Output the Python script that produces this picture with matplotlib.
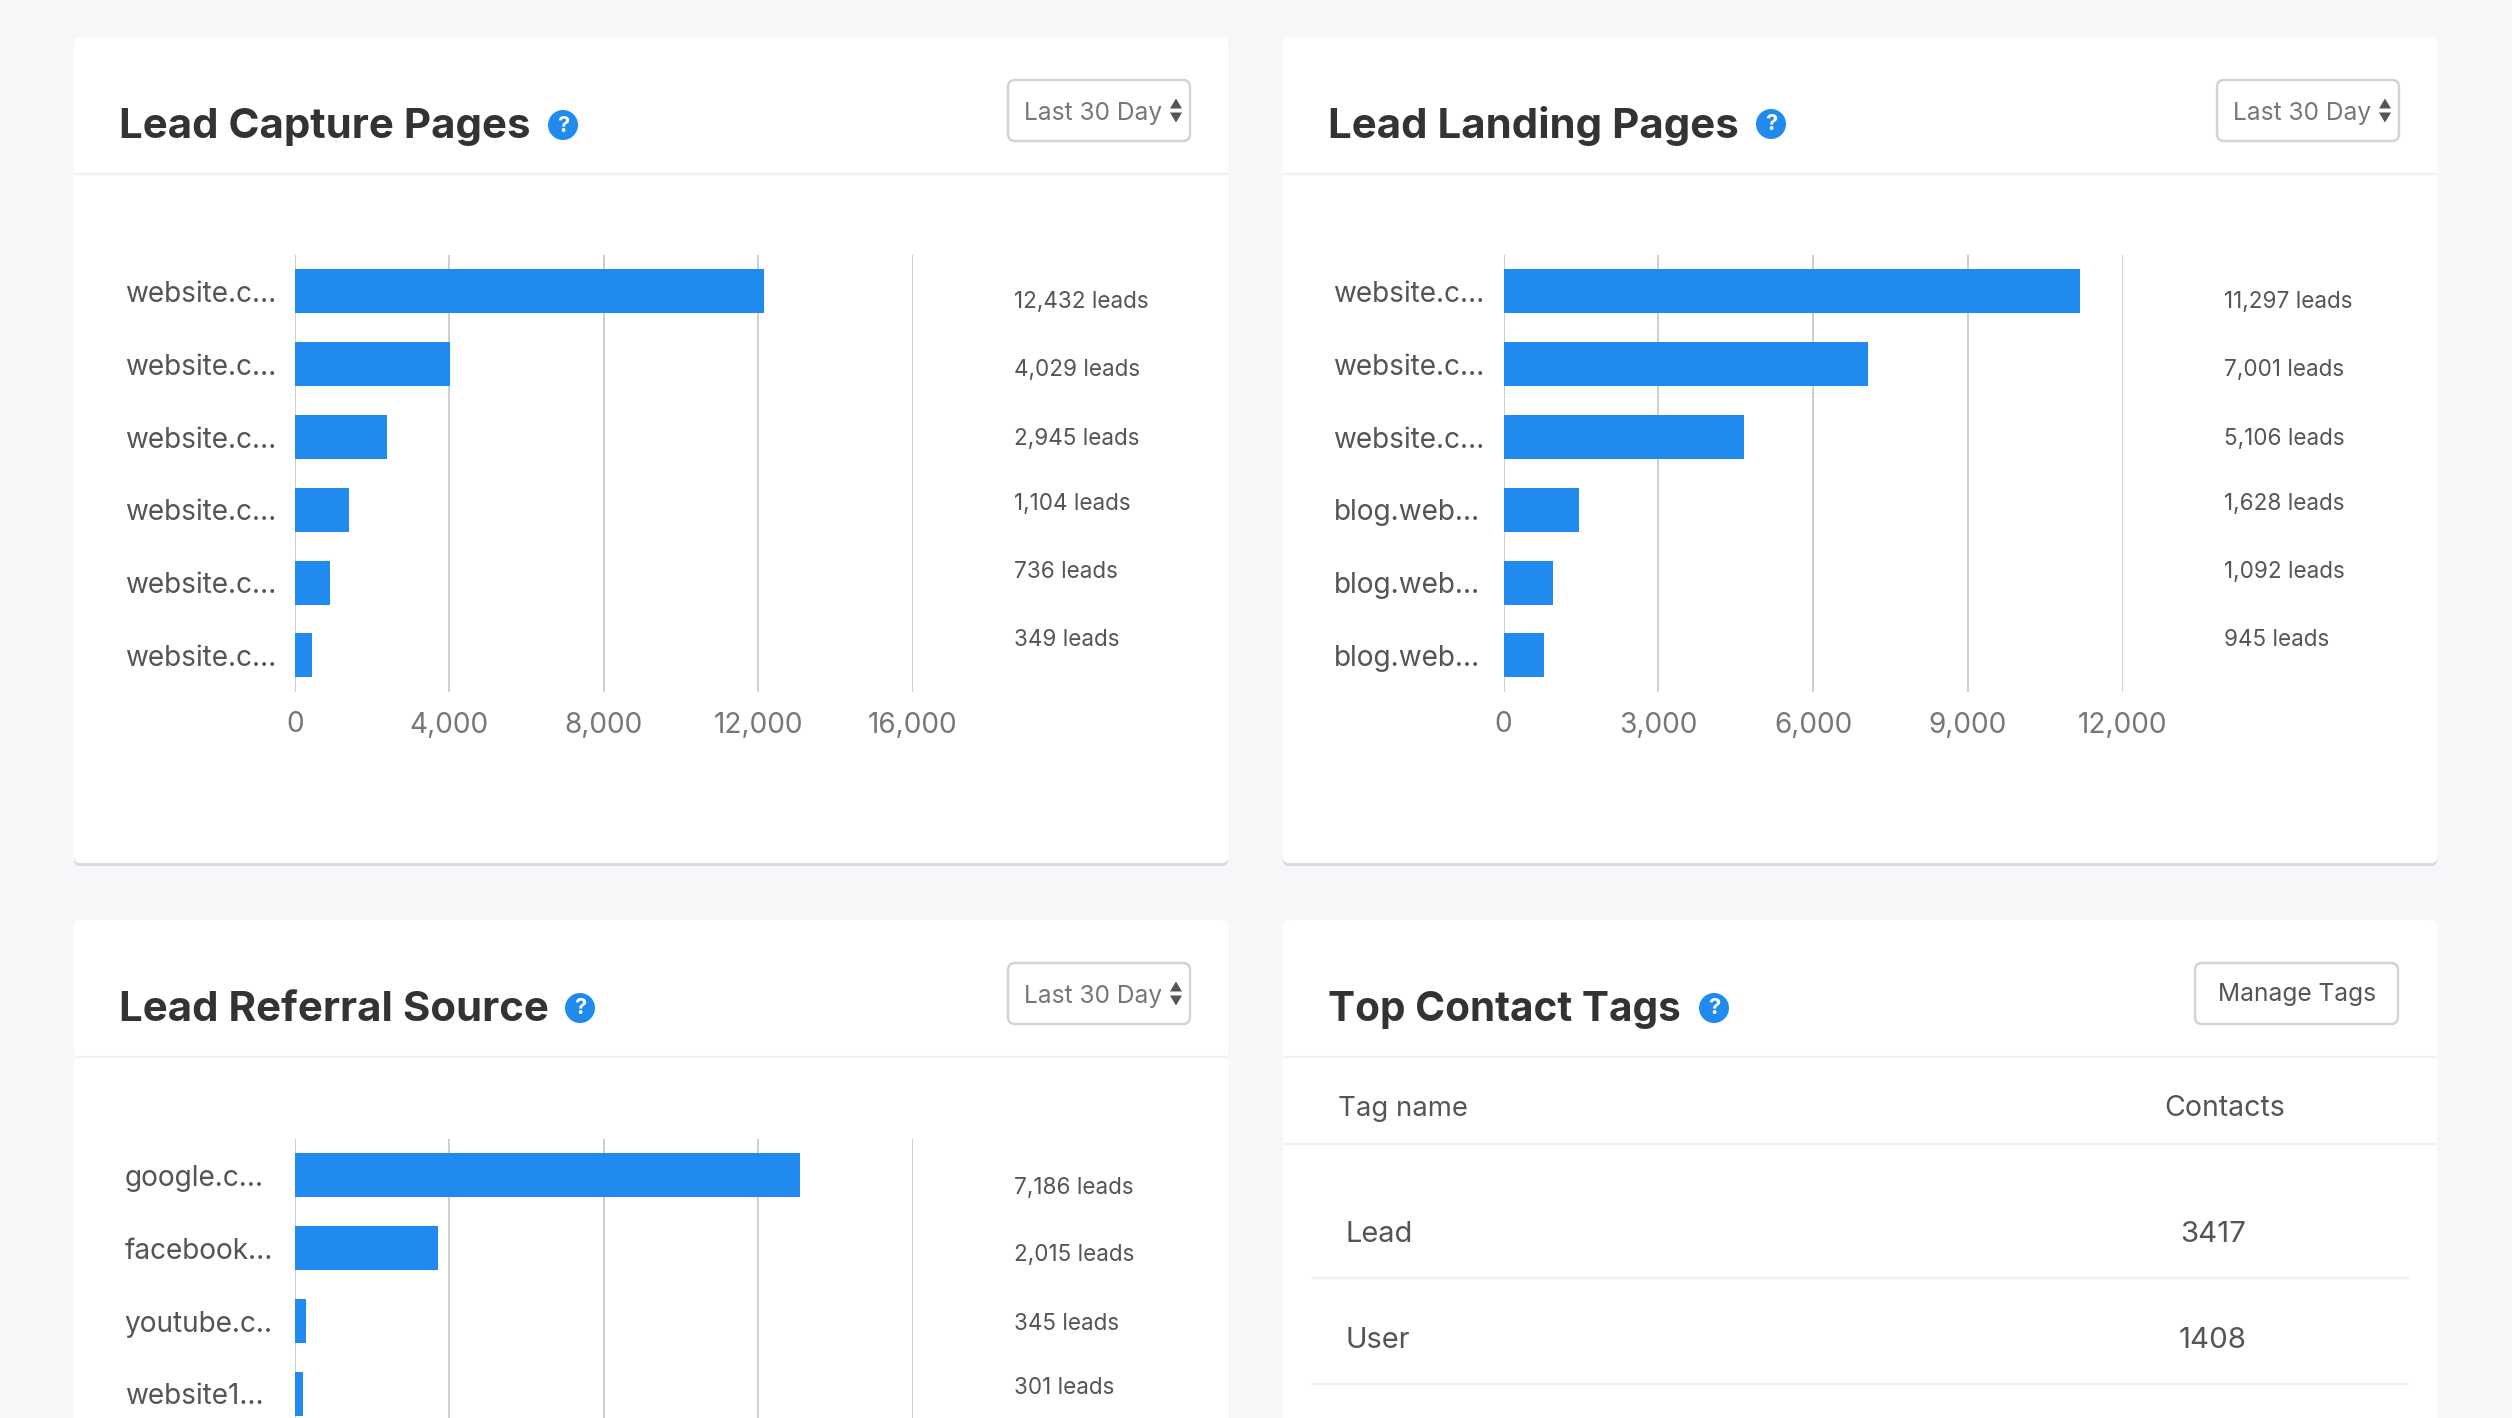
import matplotlib
matplotlib.use("Agg")
import matplotlib.pyplot as plt
from matplotlib.patches import FancyBboxPatch, Circle, Polygon

plt.rcParams['font.family'] = ['Inter', 'DejaVu Sans']

# ---- data ----
capture_titles = "Lead Capture Pages"
capture_cats = ["website.c...", "website.c...", "website.c...", "website.c...", "website.c...", "website.c..."]
capture_bars = [12140, 4010, 2390, 1400, 910, 435]
capture_labels = ["12,432 leads", "4,029 leads", "2,945 leads", "1,104 leads", "736 leads", "349 leads"]
capture_ticks = [0, 4000, 8000, 12000, 16000]

landing_titles = "Lead Landing Pages"
landing_cats = ["website.c...", "website.c...", "website.c...", "blog.web...", "blog.web...", "blog.web..."]
landing_bars = [11170, 7070, 4655, 1460, 968, 784]
landing_labels = ["11,297 leads", "7,001 leads", "5,106 leads", "1,628 leads", "1,092 leads", "945 leads"]
landing_ticks = [0, 3000, 6000, 9000, 12000]

referral_titles = "Lead Referral Source"
referral_cats = ["google.c...", "facebook...", "youtube.c..", "website1..."]
referral_bars = [6540, 1860, 150, 110]
referral_labels = ["7,186 leads", "2,015 leads", "345 leads", "301 leads"]
referral_ticks = [0, 2000, 4000, 6000, 8000]

tags_title = "Top Contact Tags"
tag_header = ["Tag name", "Contacts"]
tag_names = ["Lead", "User"]
tag_counts = [3417, 1408]

# ---- style ----
W, H = 2512, 1418
BG = "#f6f7f9"
BLUE = "#218aee"
DARK = "#333333"
MID = "#555555"
GREY = "#777777"
GRID = "#cfcfcf"
PX = 72 / 100  # points per pixel at dpi 100

fig = plt.figure(figsize=(W / 100, H / 100), dpi=100, facecolor=BG)
ov = fig.add_axes([0, 0, 1, 1])
ov.set_xlim(0, W)
ov.set_ylim(H, 0)
ov.axis("off")


def rrect(x0, y0, x1, y1, r, fc, ec="none", lw=0, z=1):
    p = FancyBboxPatch((x0 + r, y0 + r), x1 - x0 - 2 * r, y1 - y0 - 2 * r,
                       boxstyle=f"round,pad={r},rounding_size={r}",
                       fc=fc, ec=ec, lw=lw, zorder=z, mutation_aspect=1)
    ov.add_patch(p)


def card(x0, y0, x1, y1, sep_y):
    rrect(x0, y0 + 6, x1, y1 + 3, 6, "#d9dae4", z=1)
    rrect(x0, y0, x1, y1, 6, "white", z=2)
    ov.plot([x0, x1], [sep_y, sep_y], color="#f1f1f4", lw=2.5 * PX, zorder=3, solid_capstyle="butt")


def title(x, y, text, qx, size=42):
    ov.text(x, y + 5, text, fontsize=size * PX, fontweight="bold", color=DARK, va="center", ha="left", zorder=4)
    ov.add_patch(Circle((qx, y + 3), 15, fc=BLUE, ec="none", zorder=4))
    ov.text(qx, y + 3.5, "?", fontsize=22 * PX, fontweight="bold", color="white", ha="center", va="center", zorder=5)


def select(x0, y0, x1, y1, dy=0):
    rrect(x0, y0, x1, y1, 7, "white", ec="#d4d4d6", lw=2.5 * PX, z=4)
    ov.text(x0 + 16, (y0 + y1) / 2 + 3, "Last 30 Day", fontsize=24.5 * PX, color=GREY, va="center", ha="left", zorder=5)
    ax_ = x1 - 14
    cy = (y0 + y1) / 2
    ov.add_patch(Polygon([[ax_ - 6, cy - 2], [ax_ + 6, cy - 2], [ax_, cy - 12]], fc="#555555", ec="none", zorder=5))
    ov.add_patch(Polygon([[ax_ - 6, cy + 2], [ax_ + 6, cy + 2], [ax_, cy + 12]], fc="#555555", ec="none", zorder=5))


def chart(x0, x1, top, bottom, cats, vals, ticks, label_x, label_ys, labels, show_ticks=True, slots=6):
    slot = 72.8
    ax = fig.add_axes([x0 / W, 1 - bottom / H, (x1 - x0) / W, (bottom - top) / H], zorder=5)
    ax.patch.set_alpha(0)
    pos = list(range(len(cats)))
    ax.set_axisbelow(True)
    ax.barh(pos, vals, height=44 / slot, color=BLUE, zorder=3)
    ax.set_xlim(ticks[0], ticks[-1])
    ax.set_ylim(-0.5 + (bottom - top) / slot, -0.5)
    for s in ax.spines.values():
        s.set_visible(False)
    ax.set_xticks(ticks)
    ax.grid(axis="x", color=GRID, lw=2 * PX)
    ax.set_xticklabels([f"{t:,}" for t in ticks] if show_ticks else [""] * len(ticks),
                       fontsize=28 * PX, color=GREY)
    ax.tick_params(axis="x", length=0, pad=19.5 * PX)
    ax.set_yticks(pos)
    ax.set_yticklabels(cats, fontsize=28 * PX, color=MID, ha="left")
    ax.tick_params(axis="y", length=0, pad=170 * PX)
    for t, y in zip(labels, label_ys):
        ov.text(label_x, y + 2, t, fontsize=22.5 * PX, color=MID, va="center", ha="left", zorder=6)


# cards
card(74, 37, 1228, 863, 174)
card(1283, 37, 2437, 863, 174)
card(74, 920, 1228, 1440, 1057)
card(1283, 920, 2437, 1440, 1057)

title(119, 122, capture_titles, 563)
title(1328, 121, landing_titles, 1771)
title(119, 1005, referral_titles, 580)
title(1328, 1005, tags_title, 1714, size=40.5)

select(1008, 80, 1190, 141)
select(2217, 80, 2399, 141)
select(1008, 963, 1190, 1024)

rrect(2195, 963, 2398, 1024, 7, "white", ec="#d4d4d6", lw=2.5 * PX, z=4)
ov.text(2297, 995, "Manage Tags", fontsize=24.5 * PX, color=MID, ha="center", va="center", zorder=5)

ys_top = [300, 368, 437, 501.5, 570, 637.5]
chart(294.7, 913, 255, 692, capture_cats, capture_bars, capture_ticks, 1014, ys_top, capture_labels)
chart(1503.5, 2122.5, 255, 692, landing_cats, landing_bars, landing_ticks, 2223.5, ys_top, landing_labels)
chart(294.7, 913, 1139, 1418, referral_cats, referral_bars, referral_ticks, 1014,
      [1185.5, 1253, 1322, 1386], referral_labels, show_ticks=False)

# table
ov.text(1338, 1109, tag_header[0], fontsize=27.5 * PX, color=MID, va="center", ha="left", zorder=4)
ov.text(2225, 1109, tag_header[1], fontsize=28.5 * PX, color=MID, va="center", ha="center", zorder=4)
ov.plot([1283, 2437], [1144, 1144], color="#f1f1f4", lw=2.5 * PX, zorder=3)
for name, count, y, ly in zip(tag_names, tag_counts, [1234, 1340], [1278, 1384]):
    ov.text(1346, y, name, fontsize=29 * PX, color=MID, va="center", ha="left", zorder=4)
    ov.text(2213, y, str(count), fontsize=29.5 * PX, color=MID, va="center", ha="center", zorder=4)
    ov.plot([1313, 2408], [ly, ly], color="#f1f1f4", lw=2.5 * PX, zorder=3)

fig.savefig("out.png", dpi=100, facecolor=BG)
